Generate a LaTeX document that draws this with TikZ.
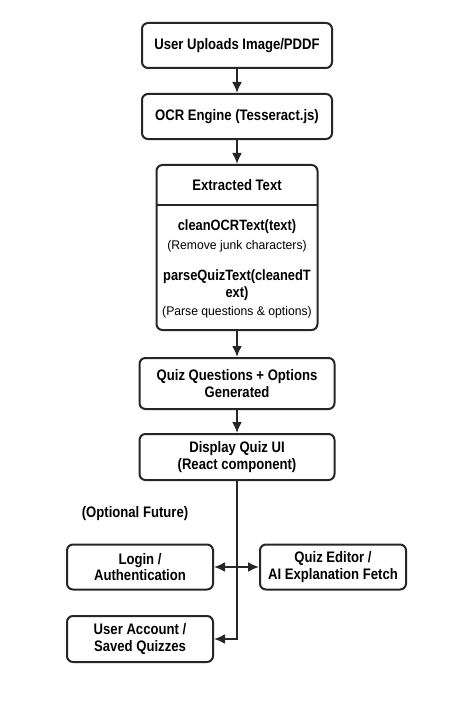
\documentclass[tikz,border=0pt]{standalone}
\usepackage{fontspec}
\setmainfont{Liberation Sans}[FakeStretch=0.86]
\newfontfamily\smallfont{Liberation Sans}[FakeStretch=0.97]
\usetikzlibrary{arrows.meta}
\begin{document}
\begin{tikzpicture}[x=1bp,y=-1bp,
  box/.style={draw=black!85, line width=2bp, rounded corners=6bp, align=center, inner sep=0pt},
  btxt/.style={font=\fontsize{15.3}{16.5}\selectfont\bfseries, align=center, inner sep=0pt},
  ctxt/.style={font=\fontsize{15}{16.5}\selectfont\bfseries, align=center, inner sep=0pt},
  stxt/.style={font=\smallfont\fontsize{12.6}{14}\selectfont, align=center, inner sep=0pt},
  conn/.style={draw=black!85, line width=2bp},
  arr/.style={conn, -{Latex[length=11bp,width=10bp]}},
  darr/.style={conn, {Latex[length=11bp,width=10bp]}-{Latex[length=11bp,width=10bp]}}]
\useasboundingbox (0,0) rectangle (474,711);
\fill[white] (0,0) rectangle (474,711);
\node[box, minimum width=190bp, minimum height=45bp, btxt] (b1) at (237,45.5) {User Uploads Image/PDDF};
\node[box, minimum width=190bp, minimum height=45bp, btxt] (b2) at (237,116.5) {OCR Engine (Tesseract.js)};
\node[box, minimum width=161bp, minimum height=165bp] (b3) at (237,247.5) {};
\coordinate (d1) at (156.5,205);
\coordinate (d2) at (317.5,205);
\draw[conn] (d1) -- (d2);
\node[btxt] (t31) at (237,185) {Extracted Text};
\node[ctxt] (t32) at (237,227) {cleanOCRText(text)};
\node[stxt] (t33) at (237,246.5) {(Remove junk characters)};
\node[ctxt] (t34) at (237,277) {parseQuizText(cleanedT};
\node[ctxt] (t35) at (237,294) {ext)};
\node[stxt] (t36) at (237,312.5) {(Parse questions \& options)};
\node[box, minimum width=195bp, minimum height=51bp, btxt] (b4) at (237,383.5) {Quiz Questions + Options\\Generated};
\node[box, minimum width=195bp, minimum height=46bp, btxt] (b5) at (237,457) {Display Quiz UI\\(React component)};
\node[btxt] (opt) at (135,514) {(Optional Future)};
\node[box, minimum width=146bp, minimum height=45bp, btxt] (lg) at (140,567) {Login /\\Authentication};
\node[box, minimum width=146bp, minimum height=45bp, btxt] (qe) at (333,567) {Quiz Editor /\\AI Explanation Fetch};
\node[box, minimum width=146bp, minimum height=46bp, btxt] (ua) at (140,639) {User Account /\\Saved Quizzes};
\draw[arr] (b1) -- (b2);
\draw[arr] (b2.south) -- (b2.south |- b3.north);
\draw[arr] (b3.south) -- (b3.south |- b4.north);
\draw[arr] (b4) -- (b5);
\coordinate (corner) at (237,639);
\draw[arr] (b5.south -| corner) -- (corner) -- (ua.east);
\draw[darr] (lg.east) -- (qe.west);
\end{tikzpicture}
\end{document}
